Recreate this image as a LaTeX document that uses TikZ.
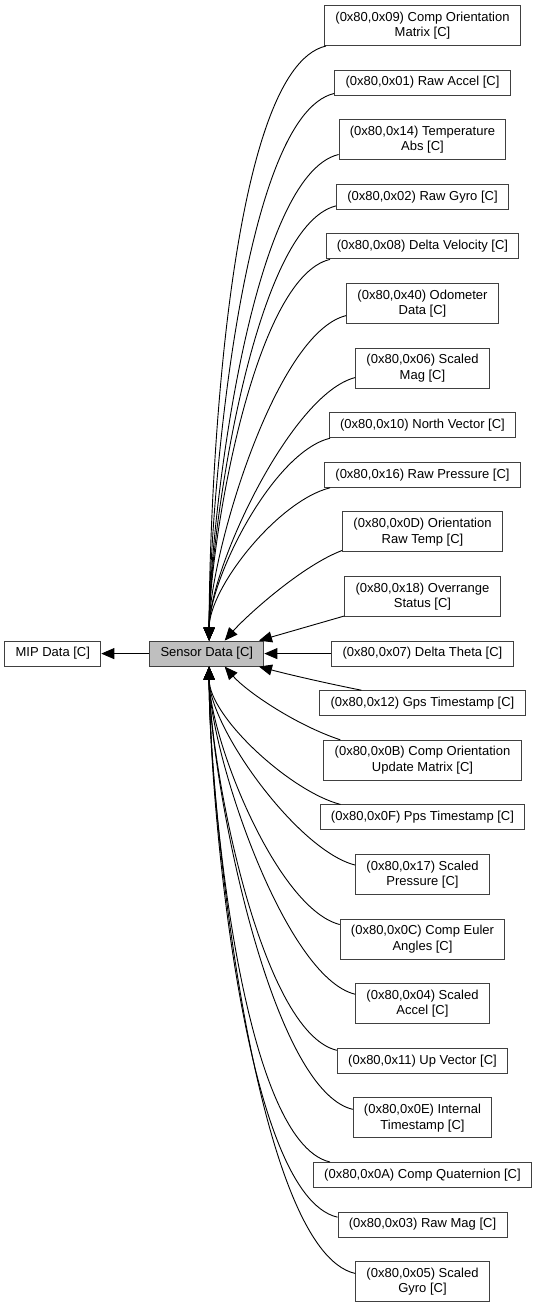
\documentclass[tikz,border=0pt]{standalone}
\usepackage{fontspec}
\setmainfont{Liberation Sans}
\usetikzlibrary{arrows.meta,positioning}

\begin{document}
\begin{tikzpicture}[
  x=1pt,y=-1pt,
  font=\fontsize{13}{15.5}\selectfont,
  node distance=23.6pt,
  group/.style={draw=black!75,line width=1pt,fill=white,align=center,
                inner xsep=10.8pt,inner ysep=0pt,minimum height=25pt},
  tall/.style={group,minimum height=40pt},
  current/.style={group,fill=black!25},
  arrow/.style={-{Triangle[length=13pt,width=11pt]},line width=0.9pt}
]
\useasboundingbox (0,0) rectangle (537,1307);

\node[tall] (d09) at (422.5,25.5) {(0x80,0x09) Comp Orientation\\Matrix [C]};
\node[group,below=of d09] (d01) {(0x80,0x01) Raw Accel [C]};
\node[tall,below=of d01] (d14) {(0x80,0x14) Temperature\\Abs [C]};
\node[group,below=of d14] (d02) {(0x80,0x02) Raw Gyro [C]};
\node[group,below=of d02] (d08) {(0x80,0x08) Delta Velocity [C]};
\node[tall,below=of d08] (d40) {(0x80,0x40) Odometer\\Data [C]};
\node[tall,below=of d40] (d06) {(0x80,0x06) Scaled\\Mag [C]};
\node[group,below=of d06] (d10) {(0x80,0x10) North Vector [C]};
\node[group,below=of d10] (d16) {(0x80,0x16) Raw Pressure [C]};
\node[tall,below=of d16] (d0D) {(0x80,0x0D) Orientation\\Raw Temp [C]};
\node[tall,below=of d0D] (d18) {(0x80,0x18) Overrange\\Status [C]};
\node[group,below=of d18] (d07) {(0x80,0x07) Delta Theta [C]};
\node[group,below=of d07] (d12) {(0x80,0x12) Gps Timestamp [C]};
\node[tall,below=of d12] (d0B) {(0x80,0x0B) Comp Orientation\\Update Matrix [C]};
\node[group,below=of d0B] (d0F) {(0x80,0x0F) Pps Timestamp [C]};
\node[tall,below=of d0F] (d17) {(0x80,0x17) Scaled\\Pressure [C]};
\node[tall,below=of d17] (d0C) {(0x80,0x0C) Comp Euler\\Angles [C]};
\node[tall,below=of d0C] (d04) {(0x80,0x04) Scaled\\Accel [C]};
\node[group,below=of d04] (d11) {(0x80,0x11) Up Vector [C]};
\node[tall,below=of d11] (d0E) {(0x80,0x0E) Internal\\Timestamp [C]};
\node[group,below=of d0E] (d0A) {(0x80,0x0A) Comp Quaternion [C]};
\node[group,below=of d0A] (d03) {(0x80,0x03) Raw Mag [C]};
\node[tall,below=of d03] (d05) {(0x80,0x05) Scaled\\Gyro [C]};

\node[current,left=67pt of d07] (sensor) {Sensor Data [C]};
\node[group,left=48pt of sensor] (mip) {MIP Data [C]};

\draw[arrow] (sensor) -- (mip);

\draw[arrow] (d09.192) .. controls +(-101,23) and +(0,-132) .. (sensor.80);
\draw[arrow] (d01.187) .. controls +(-95,22) and +(0,-124) .. (sensor.80);
\draw[arrow] (d14.190) .. controls +(-89,21) and +(0,-113) .. (sensor.80);
\draw[arrow] (d02.186) .. controls +(-83,20) and +(0,-103) .. (sensor.80);
\draw[arrow] (d08.188) .. controls +(-77,18) and +(0,-94) .. (sensor.80);
\draw[arrow] (d40.189) .. controls +(-71,17) and +(0,-84) .. (sensor.80);
\draw[arrow] (d06.188) .. controls +(-64,16) and +(0,-72) .. (sensor.80);
\draw[arrow] (d10.188) .. controls +(-57,14) and +(0,-62) .. (sensor.80);
\draw[arrow] (d16.188) .. controls +(-52,13) and +(0,-53) .. (sensor.80);
\draw[arrow] (d0D.193) .. controls +(-40,15) and +(22,-25) .. (sensor.36);
\draw[arrow] (d18.194) -- (sensor.14);
\draw[arrow] (d07) -- (sensor);
\draw[arrow] (d12.168) .. controls +(-35,-7) and +(30,8) .. (sensor.-14);
\draw[arrow] (d0B.166) .. controls +(-45,-15) and +(22,25) .. (sensor.-36);
\draw[arrow] (d0F.171) .. controls +(-50,-13) and +(0,50) .. (sensor.-80);
\draw[arrow] (d17.172) .. controls +(-57,-14) and +(0,61) .. (sensor.-80);
\draw[arrow] (d0C.170) .. controls +(-63,-16) and +(0,71) .. (sensor.-80);
\draw[arrow] (d04.172) .. controls +(-71,-17) and +(0,84) .. (sensor.-80);
\draw[arrow] (d11.173) .. controls +(-77,-18) and +(0,94) .. (sensor.-80);
\draw[arrow] (d0E.173) .. controls +(-84,-20) and +(0,105) .. (sensor.-80);
\draw[arrow] (d0A.172) .. controls +(-90,-21) and +(0,114) .. (sensor.-80);
\draw[arrow] (d03.175) .. controls +(-96,-22) and +(0,124) .. (sensor.-80);
\draw[arrow] (d05.173) .. controls +(-102,-23) and +(0,134) .. (sensor.-80);
\end{tikzpicture}
\end{document}
